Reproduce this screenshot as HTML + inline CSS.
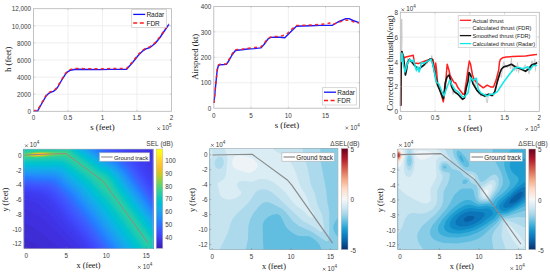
<!DOCTYPE html>
<html><head><meta charset="utf-8"><style>
html,body{margin:0;padding:0;background:#fff;width:550px;height:274px;overflow:hidden}
svg{display:block}
</style></head><body>
<svg width="550" height="274" viewBox="0 0 550 274" shape-rendering="auto">
<rect width="550" height="274" fill="#fff"/>
<line x1="67.97" y1="8.7" x2="67.97" y2="111.3" stroke="#ebebeb" stroke-width="0.8"/><line x1="102.45" y1="8.7" x2="102.45" y2="111.3" stroke="#ebebeb" stroke-width="0.8"/><line x1="136.93" y1="8.7" x2="136.93" y2="111.3" stroke="#ebebeb" stroke-width="0.8"/><line x1="33.5" y1="94.20" x2="171.4" y2="94.20" stroke="#ebebeb" stroke-width="0.8"/><line x1="33.5" y1="77.10" x2="171.4" y2="77.10" stroke="#ebebeb" stroke-width="0.8"/><line x1="33.5" y1="60.00" x2="171.4" y2="60.00" stroke="#ebebeb" stroke-width="0.8"/><line x1="33.5" y1="42.90" x2="171.4" y2="42.90" stroke="#ebebeb" stroke-width="0.8"/><line x1="33.5" y1="25.80" x2="171.4" y2="25.80" stroke="#ebebeb" stroke-width="0.8"/><polyline points="33.6,111.3 37.4,111.3 41.5,104.0 45.9,96.4 48.0,94.0 50.0,92.7 53.4,91.4 55.5,89.8 57.5,87.5 61.5,80.5 65.5,74.1 68.0,71.6 70.5,70.2 75.7,69.3 90.0,69.5 100.0,69.6 110.0,69.4 126.6,69.3 133.0,62.0 139.0,54.5 143.2,50.6 146.0,48.9 150.0,47.5 155.1,43.5 160.0,37.5 164.0,31.5 168.1,25.5 169.0,24.5" fill="none" stroke="#1a1aff" stroke-width="1.4" stroke-linejoin="round" stroke-linecap="butt" opacity="1"/><polyline points="33.6,110.5 37.4,110.5 41.5,103.2 45.9,95.6 48.0,93.2 50.0,91.9 53.4,90.6 55.5,89.0 57.5,86.7 61.5,79.7 65.5,73.3 68.0,70.8 70.5,69.4 75.7,68.5 90.0,68.7 100.0,68.8 110.0,68.6 126.6,68.5 133.0,61.2 139.0,53.7 143.2,49.8 146.0,48.1 150.0,46.7 155.1,42.7 160.0,36.7 164.0,30.7 168.1,24.7 169.0,23.7" fill="none" stroke="#ff1a1a" stroke-width="1.5" stroke-linejoin="round" stroke-linecap="butt" stroke-dasharray="3.1,3.2" opacity="0.9"/><rect x="33.5" y="8.7" width="137.90" height="102.60" fill="none" stroke="#b4b4b4" stroke-width="0.8"/><line x1="67.97" y1="111.3" x2="67.97" y2="109.89999999999999" stroke="#b4b4b4" stroke-width="0.6"/><line x1="67.97" y1="8.7" x2="67.97" y2="10.1" stroke="#b4b4b4" stroke-width="0.6"/><line x1="102.45" y1="111.3" x2="102.45" y2="109.89999999999999" stroke="#b4b4b4" stroke-width="0.6"/><line x1="102.45" y1="8.7" x2="102.45" y2="10.1" stroke="#b4b4b4" stroke-width="0.6"/><line x1="136.93" y1="111.3" x2="136.93" y2="109.89999999999999" stroke="#b4b4b4" stroke-width="0.6"/><line x1="136.93" y1="8.7" x2="136.93" y2="10.1" stroke="#b4b4b4" stroke-width="0.6"/><line x1="33.5" y1="94.20" x2="34.9" y2="94.20" stroke="#b4b4b4" stroke-width="0.6"/><line x1="171.4" y1="94.20" x2="170.0" y2="94.20" stroke="#b4b4b4" stroke-width="0.6"/><line x1="33.5" y1="77.10" x2="34.9" y2="77.10" stroke="#b4b4b4" stroke-width="0.6"/><line x1="171.4" y1="77.10" x2="170.0" y2="77.10" stroke="#b4b4b4" stroke-width="0.6"/><line x1="33.5" y1="60.00" x2="34.9" y2="60.00" stroke="#b4b4b4" stroke-width="0.6"/><line x1="171.4" y1="60.00" x2="170.0" y2="60.00" stroke="#b4b4b4" stroke-width="0.6"/><line x1="33.5" y1="42.90" x2="34.9" y2="42.90" stroke="#b4b4b4" stroke-width="0.6"/><line x1="171.4" y1="42.90" x2="170.0" y2="42.90" stroke="#b4b4b4" stroke-width="0.6"/><line x1="33.5" y1="25.80" x2="34.9" y2="25.80" stroke="#b4b4b4" stroke-width="0.6"/><line x1="171.4" y1="25.80" x2="170.0" y2="25.80" stroke="#b4b4b4" stroke-width="0.6"/><text x="30.90" y="114.02" font-size="6.3" font-family="Liberation Sans, sans-serif" fill="#3a3a3a" text-anchor="end" >0</text><text x="30.90" y="96.92" font-size="6.3" font-family="Liberation Sans, sans-serif" fill="#3a3a3a" text-anchor="end" >2000</text><text x="30.90" y="79.82" font-size="6.3" font-family="Liberation Sans, sans-serif" fill="#3a3a3a" text-anchor="end" >4000</text><text x="30.90" y="62.72" font-size="6.3" font-family="Liberation Sans, sans-serif" fill="#3a3a3a" text-anchor="end" >6000</text><text x="30.90" y="45.62" font-size="6.3" font-family="Liberation Sans, sans-serif" fill="#3a3a3a" text-anchor="end" >8000</text><text x="30.90" y="28.52" font-size="6.3" font-family="Liberation Sans, sans-serif" fill="#3a3a3a" text-anchor="end" >10,000</text><text x="30.90" y="11.42" font-size="6.3" font-family="Liberation Sans, sans-serif" fill="#3a3a3a" text-anchor="end" >12,000</text><text x="33.50" y="120.02" font-size="6.3" font-family="Liberation Sans, sans-serif" fill="#3a3a3a" text-anchor="middle" >0</text><text x="67.97" y="120.02" font-size="6.3" font-family="Liberation Sans, sans-serif" fill="#3a3a3a" text-anchor="middle" >0.5</text><text x="102.45" y="120.02" font-size="6.3" font-family="Liberation Sans, sans-serif" fill="#3a3a3a" text-anchor="middle" >1</text><text x="136.93" y="120.02" font-size="6.3" font-family="Liberation Sans, sans-serif" fill="#3a3a3a" text-anchor="middle" >1.5</text><text x="171.40" y="120.02" font-size="6.3" font-family="Liberation Sans, sans-serif" fill="#3a3a3a" text-anchor="middle" >2</text><path d="M157.25 127.35L159.95 130.05M157.25 130.05L159.95 127.35" stroke="#3a3a3a" stroke-width="0.6" fill="none"/><text x="162.00" y="130.27" font-size="6.3" font-family="Liberation Sans, sans-serif" fill="#3a3a3a">10<tspan font-size="4.6" dy="-2.9">5</tspan></text><text x="102.40" y="129.93" font-size="8.7" font-family="Liberation Serif, serif" fill="#111" text-anchor="middle" >s (feet)</text><text x="7.40" y="62.43" font-size="8.7" font-family="Liberation Serif, serif" fill="#111" text-anchor="middle" transform="rotate(-90 7.40 59.30)" >h (feet)</text><rect x="131.7" y="9.3" width="34.60" height="18.30" fill="#fff" stroke="#c8c8c8" stroke-width="0.7"/><line x1="133.20" y1="14.40" x2="145.20" y2="14.40" stroke="#1010ff" stroke-width="1.3"/><text x="146.40" y="17.21" font-size="6.55" font-family="Liberation Sans, sans-serif" fill="#1a1a1a" text-anchor="start" >Radar</text><line x1="133.20" y1="23.10" x2="145.20" y2="23.10" stroke="#ff1a1a" stroke-width="1.5" stroke-dasharray="4,2.6"/><text x="146.40" y="25.91" font-size="6.55" font-family="Liberation Sans, sans-serif" fill="#1a1a1a" text-anchor="start" >FDR</text><line x1="251.07" y1="6.4" x2="251.07" y2="108.2" stroke="#ebebeb" stroke-width="0.8"/><line x1="288.33" y1="6.4" x2="288.33" y2="108.2" stroke="#ebebeb" stroke-width="0.8"/><line x1="325.60" y1="6.4" x2="325.60" y2="108.2" stroke="#ebebeb" stroke-width="0.8"/><line x1="213.8" y1="82.75" x2="359.5" y2="82.75" stroke="#ebebeb" stroke-width="0.8"/><line x1="213.8" y1="57.30" x2="359.5" y2="57.30" stroke="#ebebeb" stroke-width="0.8"/><line x1="213.8" y1="31.85" x2="359.5" y2="31.85" stroke="#ebebeb" stroke-width="0.8"/><polyline points="214.0,103.0 215.0,92.0 216.2,80.0 217.2,70.0 218.4,65.5 220.0,64.8 224.0,64.6 226.4,64.3 229.0,60.5 232.0,55.0 235.0,51.0 237.0,50.2 242.0,49.8 247.7,49.0 254.0,48.6 260.8,47.9 264.0,44.5 268.0,39.0 270.7,37.4 275.0,37.2 280.0,37.3 284.8,37.7 290.0,32.5 296.4,26.3 302.0,26.0 310.7,25.7 320.0,25.4 332.6,25.2 338.0,22.0 345.8,18.6 349.0,18.6 353.0,20.5 359.0,22.6" fill="none" stroke="#1a1aff" stroke-width="1.4" stroke-linejoin="round" stroke-linecap="butt" opacity="1"/><polyline points="214.0,103.0 215.0,92.0 216.2,80.0 217.2,70.0 218.4,65.0 220.0,64.2 224.0,64.0 226.4,63.8 229.0,59.5 232.0,54.0 235.0,50.0 237.0,49.5 242.0,49.2 247.7,48.2 254.0,47.6 260.8,47.0 264.0,43.5 268.0,38.5 270.7,37.0 275.0,36.6 280.0,36.3 283.0,35.5 286.6,34.5 290.0,30.5 296.4,25.5 302.0,25.3 310.7,25.0 320.0,24.5 327.0,23.8 329.3,23.0 332.6,24.5 338.0,22.5 345.8,20.0 350.0,20.6 354.0,22.0 359.0,23.0" fill="none" stroke="#ff1a1a" stroke-width="1.5" stroke-linejoin="round" stroke-linecap="butt" stroke-dasharray="3.1,3.2" opacity="0.9"/><rect x="213.8" y="6.4" width="145.70" height="101.80" fill="none" stroke="#b4b4b4" stroke-width="0.8"/><line x1="251.07" y1="108.2" x2="251.07" y2="106.8" stroke="#b4b4b4" stroke-width="0.6"/><line x1="251.07" y1="6.4" x2="251.07" y2="7.800000000000001" stroke="#b4b4b4" stroke-width="0.6"/><line x1="288.33" y1="108.2" x2="288.33" y2="106.8" stroke="#b4b4b4" stroke-width="0.6"/><line x1="288.33" y1="6.4" x2="288.33" y2="7.800000000000001" stroke="#b4b4b4" stroke-width="0.6"/><line x1="325.60" y1="108.2" x2="325.60" y2="106.8" stroke="#b4b4b4" stroke-width="0.6"/><line x1="325.60" y1="6.4" x2="325.60" y2="7.800000000000001" stroke="#b4b4b4" stroke-width="0.6"/><line x1="213.8" y1="82.75" x2="215.20000000000002" y2="82.75" stroke="#b4b4b4" stroke-width="0.6"/><line x1="359.5" y1="82.75" x2="358.1" y2="82.75" stroke="#b4b4b4" stroke-width="0.6"/><line x1="213.8" y1="57.30" x2="215.20000000000002" y2="57.30" stroke="#b4b4b4" stroke-width="0.6"/><line x1="359.5" y1="57.30" x2="358.1" y2="57.30" stroke="#b4b4b4" stroke-width="0.6"/><line x1="213.8" y1="31.85" x2="215.20000000000002" y2="31.85" stroke="#b4b4b4" stroke-width="0.6"/><line x1="359.5" y1="31.85" x2="358.1" y2="31.85" stroke="#b4b4b4" stroke-width="0.6"/><text x="211.20" y="110.92" font-size="6.3" font-family="Liberation Sans, sans-serif" fill="#3a3a3a" text-anchor="end" >0</text><text x="211.20" y="85.47" font-size="6.3" font-family="Liberation Sans, sans-serif" fill="#3a3a3a" text-anchor="end" >100</text><text x="211.20" y="60.02" font-size="6.3" font-family="Liberation Sans, sans-serif" fill="#3a3a3a" text-anchor="end" >200</text><text x="211.20" y="34.57" font-size="6.3" font-family="Liberation Sans, sans-serif" fill="#3a3a3a" text-anchor="end" >300</text><text x="211.20" y="9.12" font-size="6.3" font-family="Liberation Sans, sans-serif" fill="#3a3a3a" text-anchor="end" >400</text><text x="213.80" y="118.02" font-size="6.3" font-family="Liberation Sans, sans-serif" fill="#3a3a3a" text-anchor="middle" >0</text><text x="251.07" y="118.02" font-size="6.3" font-family="Liberation Sans, sans-serif" fill="#3a3a3a" text-anchor="middle" >5</text><text x="288.33" y="118.02" font-size="6.3" font-family="Liberation Sans, sans-serif" fill="#3a3a3a" text-anchor="middle" >10</text><text x="325.60" y="118.02" font-size="6.3" font-family="Liberation Sans, sans-serif" fill="#3a3a3a" text-anchor="middle" >15</text><path d="M345.45 126.65L348.15 129.35M345.45 129.35L348.15 126.65" stroke="#3a3a3a" stroke-width="0.6" fill="none"/><text x="350.20" y="129.57" font-size="6.3" font-family="Liberation Sans, sans-serif" fill="#3a3a3a">10<tspan font-size="4.6" dy="-2.9">4</tspan></text><text x="286.90" y="128.43" font-size="8.7" font-family="Liberation Serif, serif" fill="#111" text-anchor="middle" >s (feet)</text><text x="195.10" y="59.93" font-size="8.7" font-family="Liberation Serif, serif" fill="#111" text-anchor="middle" transform="rotate(-90 195.10 56.80)" >Airspeed (kt)</text><rect x="322.5" y="87.7" width="33.80" height="17.30" fill="#fff" stroke="#c8c8c8" stroke-width="0.7"/><line x1="324.00" y1="92.20" x2="336.00" y2="92.20" stroke="#1010ff" stroke-width="1.3"/><text x="337.20" y="95.01" font-size="6.55" font-family="Liberation Sans, sans-serif" fill="#1a1a1a" text-anchor="start" >Radar</text><line x1="324.00" y1="100.60" x2="336.00" y2="100.60" stroke="#ff1a1a" stroke-width="1.5" stroke-dasharray="4,2.6"/><text x="337.20" y="103.41" font-size="6.55" font-family="Liberation Sans, sans-serif" fill="#1a1a1a" text-anchor="start" >FDR</text><line x1="435.05" y1="12.3" x2="435.05" y2="111.4" stroke="#ebebeb" stroke-width="0.8"/><line x1="469.80" y1="12.3" x2="469.80" y2="111.4" stroke="#ebebeb" stroke-width="0.8"/><line x1="504.55" y1="12.3" x2="504.55" y2="111.4" stroke="#ebebeb" stroke-width="0.8"/><line x1="400.3" y1="86.62" x2="539.3" y2="86.62" stroke="#ebebeb" stroke-width="0.8"/><line x1="400.3" y1="61.85" x2="539.3" y2="61.85" stroke="#ebebeb" stroke-width="0.8"/><line x1="400.3" y1="37.08" x2="539.3" y2="37.08" stroke="#ebebeb" stroke-width="0.8"/><polyline points="400.7,106.1 400.9,81.5 401.5,24.0 401.8,19.0 402.1,40.0 401.4,58.7 401.9,51.2 403.0,57.4 403.7,59.2 404.6,65.6 405.4,74.5 406.5,68.0 407.5,58.5 408.5,63.5 409.5,59.7 411.0,62.4 412.5,61.7 413.6,64.7 414.6,64.3 415.8,67.3 417.0,68.4 418.1,67.1 419.1,70.1 420.1,67.4 421.0,67.7 422.2,67.7 423.5,64.5 424.8,65.8 426.0,62.4 427.0,64.2 427.9,60.3 428.9,60.6 429.9,61.4 430.9,61.4 431.8,55.5 432.8,64.2 433.8,68.8 435.5,82.8 436.6,81.1 437.6,81.7 438.6,88.2 439.5,90.3 440.4,92.0 441.4,94.4 442.4,96.7 443.3,101.1 444.3,91.3 445.3,81.0 447.0,76.8 448.1,73.9 449.1,73.0 450.5,79.8 451.6,85.6 452.9,94.5 454.2,91.4 455.1,91.1 456.1,94.0 457.1,93.0 458.0,95.2 458.9,95.0 459.8,97.6 460.7,98.4 461.6,98.4 462.5,98.7 463.4,98.2 464.4,98.5 465.4,85.2 466.3,87.5 468.0,80.8 469.0,72.4 470.6,76.1 471.9,80.8 473.1,84.8 474.1,85.8 475.0,82.7 475.9,87.9 476.9,90.6 477.9,92.1 478.9,94.3 479.8,92.8 480.8,96.3 481.8,94.3 482.7,95.7 483.7,95.5 484.6,97.2 485.6,93.3 486.5,101.8 487.4,102.9 488.4,94.0 489.4,93.5 490.4,94.7 491.3,96.6 492.3,96.1 493.6,96.0 494.8,92.3 496.1,88.5 497.4,76.2 498.6,76.7 499.9,74.7 501.5,77.4 502.6,67.3 503.8,61.8 505.1,66.1 506.3,67.2 507.3,67.7 508.3,65.5 509.4,64.9 510.4,68.8 511.4,58.2 512.4,71.9 513.4,65.2 514.5,70.7 515.5,67.6 516.5,71.4 517.5,62.6 518.5,72.6 519.4,68.7 520.4,70.3 521.4,68.8 522.4,69.8 523.5,69.2 524.5,65.4 525.5,64.9 526.8,71.4 528.0,68.9 529.0,73.8 530.0,68.5 530.9,65.5 531.9,60.7 532.9,63.5 533.8,65.2 534.8,59.2 535.7,71.5" fill="none" stroke="#c6c6c6" stroke-width="0.9" stroke-linejoin="round" stroke-linecap="butt" opacity="1"/><polyline points="400.8,105.6 400.9,80.0 401.2,55.0 401.6,52.1 402.5,54.0 404.4,57.9 406.0,57.0 413.3,55.3 414.3,63.0 418.4,63.6 425.0,61.0 431.2,58.9 433.1,59.8 434.2,67.0 435.0,75.0 435.7,63.0 436.5,70.0 437.6,82.7 440.1,90.3 443.3,101.8 445.3,87.8 446.5,72.0 447.2,64.3 449.1,70.7 450.0,75.0 452.0,79.0 454.2,82.7 455.5,82.7 458.0,87.8 463.1,94.2 464.4,94.2 466.3,81.4 468.0,69.4 469.3,61.1 470.6,64.3 472.5,75.0 474.4,80.1 478.2,83.9 483.3,87.8 487.2,85.2 491.0,87.1 493.5,87.1 496.1,80.1 498.7,70.0 499.5,62.0 500.5,59.3 502.5,57.8 506.3,57.1 512.7,56.6 525.5,55.9 535.7,54.6 537.0,54.4" fill="none" stroke="#ff2020" stroke-width="1.5" stroke-linejoin="round" stroke-linecap="butt" opacity="1"/><polyline points="400.7,106.0 400.9,80.0 401.4,55.0 401.9,51.5 403.0,56.0 403.7,59.2 404.6,66.0 405.4,75.0 406.5,70.0 407.5,63.0 409.5,59.2 411.0,61.0 412.5,63.0 414.6,65.5 417.0,68.0 419.1,69.4 421.0,67.0 423.5,65.5 426.0,62.5 429.9,59.2 431.8,59.2 433.8,68.0 435.5,76.0 437.6,85.2 439.5,89.5 441.4,94.2 443.3,98.6 444.3,92.0 445.3,82.7 447.0,77.0 449.1,75.0 450.5,80.0 451.6,86.5 454.2,91.6 458.0,94.2 462.5,99.3 464.4,98.0 466.3,87.8 468.0,81.4 469.0,72.5 470.6,75.0 473.1,83.9 476.9,90.3 480.8,94.2 484.6,96.1 488.4,94.2 492.3,95.4 494.8,91.6 497.4,81.4 499.9,73.0 501.5,69.0 503.8,66.8 506.3,66.2 511.4,64.3 516.5,67.5 520.4,68.7 525.5,71.3 528.0,69.4 531.9,64.9 535.7,63.6 537.0,62.5" fill="none" stroke="#151515" stroke-width="1.7" stroke-linejoin="round" stroke-linecap="butt" opacity="1"/><polyline points="401.2,62.0 401.8,53.0 402.6,55.0 403.1,63.0 405.0,72.0 407.6,63.0 410.1,59.2 412.0,61.7 413.3,59.8 416.5,70.7 417.8,66.8 419.1,72.0 421.6,62.3 423.5,63.6 427.4,61.1 431.2,59.2 433.1,65.5 435.0,75.0 436.3,82.0 438.9,84.0 441.4,90.3 444.0,96.0 445.9,90.3 449.7,80.1 452.9,86.5 454.8,89.7 458.0,91.6 461.9,96.1 463.8,97.3 468.0,92.9 470.6,77.6 473.1,80.7 476.3,78.2 478.2,89.0 480.8,92.9 487.2,96.1 490.3,94.2 493.5,94.2 497.4,91.6 503.0,83.0 508.9,75.0 512.0,71.0 515.3,67.5 519.1,67.5 522.9,68.7 528.0,66.8 529.9,70.0 533.1,65.5 537.0,65.5" fill="none" stroke="#10e8e8" stroke-width="1.5" stroke-linejoin="round" stroke-linecap="butt" opacity="1"/><rect x="400.3" y="12.3" width="139.00" height="99.10" fill="none" stroke="#b4b4b4" stroke-width="0.8"/><line x1="435.05" y1="111.4" x2="435.05" y2="110.0" stroke="#b4b4b4" stroke-width="0.6"/><line x1="435.05" y1="12.3" x2="435.05" y2="13.700000000000001" stroke="#b4b4b4" stroke-width="0.6"/><line x1="469.80" y1="111.4" x2="469.80" y2="110.0" stroke="#b4b4b4" stroke-width="0.6"/><line x1="469.80" y1="12.3" x2="469.80" y2="13.700000000000001" stroke="#b4b4b4" stroke-width="0.6"/><line x1="504.55" y1="111.4" x2="504.55" y2="110.0" stroke="#b4b4b4" stroke-width="0.6"/><line x1="504.55" y1="12.3" x2="504.55" y2="13.700000000000001" stroke="#b4b4b4" stroke-width="0.6"/><line x1="400.3" y1="86.62" x2="401.7" y2="86.62" stroke="#b4b4b4" stroke-width="0.6"/><line x1="539.3" y1="86.62" x2="537.9" y2="86.62" stroke="#b4b4b4" stroke-width="0.6"/><line x1="400.3" y1="61.85" x2="401.7" y2="61.85" stroke="#b4b4b4" stroke-width="0.6"/><line x1="539.3" y1="61.85" x2="537.9" y2="61.85" stroke="#b4b4b4" stroke-width="0.6"/><line x1="400.3" y1="37.08" x2="401.7" y2="37.08" stroke="#b4b4b4" stroke-width="0.6"/><line x1="539.3" y1="37.08" x2="537.9" y2="37.08" stroke="#b4b4b4" stroke-width="0.6"/><text x="397.90" y="114.12" font-size="6.3" font-family="Liberation Sans, sans-serif" fill="#3a3a3a" text-anchor="end" >0</text><text x="397.90" y="89.34" font-size="6.3" font-family="Liberation Sans, sans-serif" fill="#3a3a3a" text-anchor="end" >2</text><text x="397.90" y="64.57" font-size="6.3" font-family="Liberation Sans, sans-serif" fill="#3a3a3a" text-anchor="end" >4</text><text x="397.90" y="39.79" font-size="6.3" font-family="Liberation Sans, sans-serif" fill="#3a3a3a" text-anchor="end" >6</text><text x="397.90" y="15.02" font-size="6.3" font-family="Liberation Sans, sans-serif" fill="#3a3a3a" text-anchor="end" >8</text><text x="400.30" y="120.42" font-size="6.3" font-family="Liberation Sans, sans-serif" fill="#3a3a3a" text-anchor="middle" >0</text><text x="435.05" y="120.42" font-size="6.3" font-family="Liberation Sans, sans-serif" fill="#3a3a3a" text-anchor="middle" >0.5</text><text x="469.80" y="120.42" font-size="6.3" font-family="Liberation Sans, sans-serif" fill="#3a3a3a" text-anchor="middle" >1</text><text x="504.55" y="120.42" font-size="6.3" font-family="Liberation Sans, sans-serif" fill="#3a3a3a" text-anchor="middle" >1.5</text><text x="539.30" y="120.42" font-size="6.3" font-family="Liberation Sans, sans-serif" fill="#3a3a3a" text-anchor="middle" >2</text><path d="M525.45 127.95L528.15 130.65M525.45 130.65L528.15 127.95" stroke="#3a3a3a" stroke-width="0.6" fill="none"/><text x="530.20" y="130.87" font-size="6.3" font-family="Liberation Sans, sans-serif" fill="#3a3a3a">10<tspan font-size="4.6" dy="-2.9">5</tspan></text><path d="M401.45 8.45L404.15 11.15M401.45 11.15L404.15 8.45" stroke="#3a3a3a" stroke-width="0.6" fill="none"/><text x="406.20" y="11.37" font-size="6.3" font-family="Liberation Sans, sans-serif" fill="#3a3a3a">10<tspan font-size="4.6" dy="-2.9">4</tspan></text><text x="470.00" y="130.93" font-size="8.7" font-family="Liberation Serif, serif" fill="#111" text-anchor="middle" >s (feet)</text><text x="390.00" y="66.10" font-size="8.6" font-family="Liberation Serif, serif" fill="#111" text-anchor="middle" transform="rotate(-90 390.00 63.00)" >Corrected net thrust(lb/eng)</text><rect x="458.2" y="15.4" width="78.00" height="32.20" fill="#fff" stroke="#c8c8c8" stroke-width="0.7"/><line x1="459.80" y1="20.30" x2="471.20" y2="20.30" stroke="#ff2020" stroke-width="1.3"/><text x="472.40" y="22.77" font-size="5.62" font-family="Liberation Sans, sans-serif" fill="#1a1a1a" text-anchor="start" >Actual thrust</text><line x1="459.80" y1="27.90" x2="471.20" y2="27.90" stroke="#d8d8d8" stroke-width="1.0"/><text x="472.40" y="30.37" font-size="5.62" font-family="Liberation Sans, sans-serif" fill="#1a1a1a" text-anchor="start" >Calculated thrust (FDR)</text><line x1="459.80" y1="35.60" x2="471.20" y2="35.60" stroke="#151515" stroke-width="1.3"/><text x="472.40" y="38.07" font-size="5.62" font-family="Liberation Sans, sans-serif" fill="#1a1a1a" text-anchor="start" >Smoothed thrust (FDR)</text><line x1="459.80" y1="43.60" x2="471.20" y2="43.60" stroke="#10e8e8" stroke-width="1.3"/><text x="472.40" y="46.07" font-size="5.62" font-family="Liberation Sans, sans-serif" fill="#1a1a1a" text-anchor="start" >Calculated thrust (Radar)</text>
<clipPath id="c4"><rect x="23.9" y="149.1" width="129.20" height="99.30"/></clipPath><g clip-path="url(#c4)"><rect x="23.90" y="149.10" width="129.20" height="99.30" fill="#3a20af"/><path fill="#3b22b9" fill-rule="evenodd" d="M154.6 250.2 22.4 249.9 22.1 147.6 154.6 147.5 154.6 250.2Z"/><path fill="#3c26c2" fill-rule="evenodd" d="M154.6 250.2 22.4 249.9 22.1 147.6 154.6 147.6 154.6 250.2Z"/><path fill="#3d29cc" fill-rule="evenodd" d="M154.6 250.2 22.4 249.9 22.1 147.6 154.6 147.6 154.6 250.2Z"/><path fill="#3e2cd5" fill-rule="evenodd" d="M154.6 250.2 40.1 249.9 40.1 247.9 35.4 244.6 24.4 238.0 22.4 238.0 22.1 147.6 154.6 147.6 154.6 250.2Z"/><path fill="#3f2fde" fill-rule="evenodd" d="M154.6 250.2 59.7 249.9 59.7 247.9 42.4 233.7 29.4 225.3 24.4 222.8 22.4 222.8 22.1 147.6 154.6 147.6 154.6 250.2Z"/><path fill="#3f33e5" fill-rule="evenodd" d="M154.6 250.1 72.7 249.9 72.7 247.9 50.4 226.3 42.4 219.3 36.4 214.8 31.4 211.8 24.4 208.8 22.4 208.8 22.1 147.6 154.6 147.6 154.6 250.1Z"/><path fill="#3f37eb" fill-rule="evenodd" d="M154.6 250.1 80.1 249.9 80.1 247.9 78.5 246.1 62.9 229.8 55.4 220.9 42.9 207.8 38.4 204.5 33.4 202.1 27.4 200.2 22.4 199.7 22.2 147.6 145.7 147.6 145.7 149.6 152.6 160.1 154.6 160.1 154.6 250.1Z"/><path fill="#3f3cf0" fill-rule="evenodd" d="M154.6 250.1 84.8 249.9 84.8 247.9 82.5 245.0 65.3 225.8 59.5 218.1 46.2 202.8 42.2 199.8 37.4 197.6 27.4 195.3 22.4 195.0 22.2 147.6 135.9 147.6 135.9 149.6 140.5 154.6 144.1 159.6 152.6 174.6 154.6 174.6 154.6 250.1Z"/><path fill="#3f40f5" fill-rule="evenodd" d="M154.6 250.1 88.4 249.9 88.4 247.9 83.5 241.6 68.0 223.8 53.4 204.8 48.4 199.3 44.4 196.5 39.4 194.5 27.4 192.3 22.4 192.1 22.2 147.6 129.3 147.6 129.3 149.6 136.6 156.7 141.0 162.6 152.6 182.1 154.6 182.1 154.6 250.1Z"/><path fill="#3f45f9" fill-rule="evenodd" d="M154.6 250.1 91.3 249.9 91.3 247.9 84.5 238.9 69.9 221.8 54.8 201.8 50.0 196.7 45.4 193.8 40.4 192.1 27.4 190.1 22.4 190.0 22.2 147.6 124.3 147.6 124.3 149.6 129.6 153.8 136.0 160.6 152.6 186.5 154.6 186.5 154.6 250.1Z"/><path fill="#3f4afc" fill-rule="evenodd" d="M154.6 250.1 93.8 249.9 93.8 247.9 85.5 236.7 71.5 220.0 57.0 200.8 51.4 194.8 47.4 192.2 42.4 190.5 27.4 188.3 22.4 188.2 22.2 147.6 119.8 147.6 119.8 149.6 126.6 154.1 133.6 161.2 152.6 189.8 154.6 189.8 154.6 250.1Z"/><path fill="#3f4fff" fill-rule="evenodd" d="M154.6 250.1 96.1 249.9 96.1 247.9 85.5 233.6 73.1 218.8 58.9 199.8 53.2 193.7 48.9 190.7 43.4 188.9 27.4 186.8 22.4 186.7 22.2 147.6 115.9 147.6 115.9 149.6 123.6 154.1 131.6 161.6 152.6 192.4 154.6 192.4 154.6 250.1Z"/><path fill="#3e54ff" fill-rule="evenodd" d="M154.6 250.1 98.2 249.9 98.2 247.9 85.5 230.7 74.7 217.8 60.5 198.9 53.5 191.7 49.4 189.0 44.4 187.5 27.4 185.5 22.4 185.4 22.2 147.6 112.3 147.6 112.3 149.6 123.0 155.6 131.6 164.1 152.6 194.8 154.6 194.8 154.6 250.1Z"/><path fill="#3d59ff" fill-rule="evenodd" d="M154.6 250.1 100.1 249.9 100.1 247.9 85.5 228.0 76.1 216.8 62.5 198.8 54.8 190.7 50.4 187.8 46.4 186.5 32.0 184.7 22.4 184.2 22.2 147.6 109.1 147.6 109.1 149.6 116.5 153.2 122.0 156.6 130.6 165.1 152.6 196.9 154.6 196.9 154.6 250.1Z"/><path fill="#3b5eff" fill-rule="evenodd" d="M154.6 250.1 102.0 249.9 102.0 247.9 86.5 226.8 63.7 197.7 55.4 189.4 51.4 186.7 46.4 185.1 22.4 183.1 22.2 147.6 106.4 147.6 106.4 149.6 115.5 154.1 121.6 157.9 129.4 165.7 152.6 198.9 154.6 198.9 154.6 250.1Z"/><path fill="#3963ff" fill-rule="evenodd" d="M154.6 250.1 103.7 249.9 103.7 247.9 86.5 224.4 65.5 197.7 56.5 188.5 52.4 185.7 47.4 184.1 22.4 182.0 22.2 147.6 104.2 147.6 104.2 149.6 115.5 155.4 120.5 158.6 128.7 166.7 152.6 200.7 154.6 200.7 154.6 250.1Z"/><path fill="#3668ff" fill-rule="evenodd" d="M154.6 250.1 105.5 249.9 105.5 247.9 86.5 222.1 66.5 196.7 56.5 186.9 52.4 184.3 48.4 183.1 22.4 181.0 22.2 147.6 102.2 147.6 102.2 149.6 119.5 159.1 127.6 167.0 152.6 202.5 154.6 202.5 154.6 250.1Z"/><path fill="#316eff" fill-rule="evenodd" d="M154.6 250.1 107.1 249.9 107.1 247.9 87.5 221.1 68.2 196.7 57.5 186.1 53.4 183.4 49.4 182.1 22.4 180.1 22.2 147.6 100.5 147.6 100.5 149.6 119.5 160.4 126.8 167.7 152.6 204.2 154.6 204.2 154.6 250.1Z"/><path fill="#2c74ff" fill-rule="evenodd" d="M154.6 250.1 108.7 249.9 108.7 247.9 87.5 218.9 69.0 195.7 57.6 184.7 53.4 182.1 49.4 181.0 22.4 179.1 22.2 147.6 98.9 147.6 98.9 149.6 118.5 160.9 126.3 168.7 152.6 205.8 154.6 205.8 154.6 250.1Z"/><path fill="#277aff" fill-rule="evenodd" d="M154.6 250.0 110.3 249.9 110.3 247.9 88.5 218.1 70.5 195.6 58.5 184.0 54.4 181.3 50.4 180.2 22.4 178.3 22.2 147.6 97.3 147.6 97.3 149.6 118.0 161.6 125.6 169.2 152.6 207.4 154.6 207.4 154.6 250.0Z"/><path fill="#257fff" fill-rule="evenodd" d="M154.6 250.0 111.9 249.9 111.9 247.9 89.1 216.8 71.4 194.7 58.6 182.7 54.4 180.1 50.4 179.1 22.4 177.4 22.3 147.6 95.8 147.6 95.8 149.6 117.5 162.4 124.7 169.7 152.6 208.9 154.6 208.9 154.6 250.0Z"/><path fill="#2484ff" fill-rule="evenodd" d="M154.6 250.0 113.4 249.9 113.4 247.9 89.5 215.3 72.0 193.7 59.5 182.0 55.4 179.4 51.4 178.3 22.4 176.5 22.3 147.6 94.4 147.6 94.4 149.6 116.5 162.8 124.4 170.7 152.6 210.4 154.6 210.4 154.6 250.0Z"/><path fill="#2389ff" fill-rule="evenodd" d="M154.6 250.0 114.9 249.9 114.9 247.9 90.5 214.5 73.5 193.6 59.6 180.7 55.4 178.2 51.4 177.3 22.4 175.7 22.3 147.6 93.0 147.6 93.0 149.6 116.3 163.6 123.3 170.7 152.6 211.9 154.6 211.9 154.6 250.0Z"/><path fill="#238efb" fill-rule="evenodd" d="M154.6 250.0 116.4 249.9 116.4 247.9 91.5 213.8 74.3 192.7 60.5 180.1 56.5 177.5 52.4 176.4 22.4 174.9 22.3 147.6 91.6 147.6 91.6 149.6 103.5 157.3 115.5 164.2 123.0 171.7 152.6 213.4 154.6 213.4 154.6 250.0Z"/><path fill="#2193f8" fill-rule="evenodd" d="M154.6 250.0 117.9 249.9 117.9 247.9 92.3 212.8 74.9 191.7 61.5 179.5 57.5 176.8 53.4 175.6 22.4 174.0 22.3 147.6 90.3 147.6 90.3 149.6 102.5 157.6 114.8 164.6 121.9 171.7 152.6 214.8 154.6 214.8 154.6 250.0Z"/><path fill="#1e98f5" fill-rule="evenodd" d="M154.6 250.0 119.5 249.9 119.5 247.9 92.5 211.1 76.5 191.7 61.5 178.2 57.5 175.7 53.4 174.6 22.4 173.2 22.3 147.6 88.9 147.6 88.9 149.6 102.5 158.5 114.5 165.5 121.6 172.7 152.6 216.3 154.6 216.3 154.6 250.0Z"/><path fill="#1c9cf2" fill-rule="evenodd" d="M154.6 250.0 121.0 249.9 121.0 247.9 93.5 210.4 77.1 190.7 62.5 177.7 58.5 175.0 53.6 173.7 22.4 172.4 22.3 147.6 87.6 147.6 87.6 149.6 102.5 159.4 113.5 165.7 120.6 172.7 152.6 217.7 154.6 217.7 154.6 250.0Z"/><path fill="#1ba1ef" fill-rule="evenodd" d="M154.6 250.0 122.5 249.9 122.5 247.9 94.5 209.7 77.7 189.7 62.9 176.7 58.5 173.8 54.4 172.8 22.4 171.6 22.3 147.6 86.3 147.6 86.3 149.6 101.5 159.7 113.5 166.8 120.3 173.7 128.4 185.7 152.6 219.2 154.6 219.2 154.6 250.0Z"/><path fill="#18a5ee" fill-rule="evenodd" d="M154.6 250.0 124.1 249.9 124.1 247.9 95.4 208.8 78.5 188.9 63.5 175.8 59.5 173.1 54.4 171.8 22.4 170.8 22.3 147.6 85.0 147.6 85.0 149.6 101.5 160.7 113.3 167.7 119.5 174.0 127.6 186.0 152.6 220.7 154.6 220.7 154.6 250.0Z"/><path fill="#15a9ec" fill-rule="evenodd" d="M154.6 250.0 125.6 249.9 125.6 247.9 96.2 207.8 80.0 188.7 63.8 174.7 59.5 172.0 55.4 171.0 22.4 170.0 22.3 147.6 83.7 147.6 83.7 149.6 101.5 161.6 112.5 168.1 119.0 174.7 127.0 186.7 152.6 222.2 154.6 222.2 154.6 250.0Z"/><path fill="#13aee9" fill-rule="evenodd" d="M154.6 250.0 127.2 249.9 127.2 247.9 96.5 206.1 80.5 187.5 68.0 176.7 61.5 171.8 58.5 170.5 54.4 169.9 22.4 169.2 22.3 147.6 82.5 147.6 82.5 149.6 100.5 161.9 111.9 168.7 118.5 175.5 125.9 186.7 152.6 223.7 154.6 223.7 154.6 250.0Z"/><path fill="#0fb2e6" fill-rule="evenodd" d="M154.6 250.0 128.8 249.9 128.8 247.9 98.0 205.8 81.4 186.7 62.5 171.1 58.5 169.4 54.4 168.9 22.4 168.4 22.3 147.6 81.2 147.6 81.2 149.6 100.5 162.9 111.5 169.4 117.6 175.7 124.8 186.7 152.6 225.2 154.6 225.2 154.6 250.0Z"/><path fill="#0bb6e2" fill-rule="evenodd" d="M154.6 250.0 130.5 249.9 130.5 247.9 98.8 204.8 82.1 185.7 63.5 170.5 59.5 168.6 55.4 168.0 22.4 167.6 22.3 147.6 79.9 147.6 79.9 149.6 80.5 150.0 100.5 163.9 110.5 169.7 116.5 175.7 124.4 187.7 152.6 226.8 154.6 226.8 154.6 250.0Z"/><path fill="#04b9de" fill-rule="evenodd" d="M154.6 249.9 132.2 249.9 132.2 247.9 99.8 203.8 83.5 185.3 64.3 169.7 60.5 167.8 56.5 167.0 22.4 166.7 22.4 147.6 78.6 147.6 78.6 149.6 80.5 151.0 100.5 165.0 110.3 170.7 116.1 176.7 123.2 187.7 152.6 228.5 154.6 228.5 154.6 249.9Z"/><path fill="#00bdd9" fill-rule="evenodd" d="M154.6 249.9 133.9 249.9 133.9 247.9 100.7 202.8 84.5 184.5 64.5 168.4 60.5 166.6 56.5 166.0 22.4 165.9 22.4 147.6 77.3 147.6 77.3 149.6 79.5 151.2 99.5 165.3 109.5 171.2 115.5 177.4 122.0 187.7 152.6 230.1 154.6 230.1 154.6 249.9Z"/><path fill="#00c0d4" fill-rule="evenodd" d="M154.6 249.9 135.6 249.9 135.6 247.9 101.8 201.8 85.5 183.7 65.5 167.7 61.5 165.7 56.5 164.9 22.4 165.1 22.4 147.6 76.1 147.6 76.1 149.6 78.5 151.5 99.5 166.4 109.5 172.4 114.6 177.7 121.5 188.7 152.6 231.8 154.6 231.8 154.6 249.9Z"/><path fill="#00c3ce" fill-rule="evenodd" d="M154.6 249.9 137.4 249.9 137.4 247.9 102.8 200.8 86.4 182.7 65.9 166.7 61.8 164.6 57.5 163.9 22.4 164.2 22.4 147.6 74.9 147.6 74.9 149.6 78.5 152.5 98.5 166.9 108.5 172.8 114.1 178.7 120.3 188.7 152.6 233.6 154.6 233.6 154.6 249.9Z"/><path fill="#00c5c8" fill-rule="evenodd" d="M154.6 249.9 139.2 249.9 139.2 247.9 104.5 200.5 88.3 182.7 73.4 170.7 65.5 165.0 59.5 163.0 22.4 163.4 22.4 147.6 73.7 147.6 73.7 149.6 77.2 152.6 98.5 168.1 108.1 173.7 113.5 179.6 119.7 189.7 152.6 235.5 154.6 235.5 154.6 249.9Z"/><path fill="#09c7c2" fill-rule="evenodd" d="M154.6 249.9 141.1 249.9 141.1 247.9 105.8 199.8 96.5 190.1 90.3 182.7 82.0 175.7 68.5 165.5 64.5 163.1 61.5 162.2 54.4 161.7 22.4 162.6 22.4 147.6 72.5 147.6 72.5 149.6 75.7 152.6 98.5 169.3 107.5 174.5 112.3 179.7 118.3 189.7 152.6 237.4 154.6 237.4 154.6 249.9Z"/><path fill="#14c8bb" fill-rule="evenodd" d="M150.6 249.9 143.1 249.9 143.1 247.9 107.5 199.4 97.5 189.0 91.5 181.9 87.5 178.3 69.4 164.6 65.5 162.3 62.5 161.2 55.4 160.7 22.4 161.7 22.4 147.6 71.3 147.6 71.3 149.6 74.3 152.6 97.5 169.9 106.5 175.1 111.7 180.7 116.9 189.7 152.6 239.5 154.6 239.5 154.6 246.5 152.6 246.5 151.4 247.9 151.4 249.9 150.6 249.9Z"/><path fill="#1dc9b4" fill-rule="evenodd" d="M149.6 249.9 145.8 249.9 145.8 247.9 143.5 245.9 108.2 197.7 99.2 188.7 92.5 180.8 88.9 177.7 70.1 163.6 63.5 160.2 56.5 159.6 22.4 160.9 22.4 150.0 37.1 149.6 37.1 147.6 70.0 147.6 70.0 149.6 73.0 152.6 97.5 171.2 105.5 175.7 110.3 180.7 116.1 190.7 152.0 240.9 152.5 243.9 150.2 247.9 150.2 249.9 149.6 249.9Z"/><path fill="#23cbad" fill-rule="evenodd" d="M149.6 246.4 146.6 246.5 144.7 244.9 108.5 195.7 100.4 187.7 93.5 179.7 88.6 175.7 70.5 162.4 63.5 159.0 57.5 158.5 22.4 160.0 22.4 150.7 57.5 149.8 59.9 149.6 59.9 147.6 68.6 147.6 68.6 149.6 75.1 155.6 97.5 172.6 104.9 176.7 109.5 181.6 115.3 191.7 150.6 241.0 151.1 243.9 149.6 246.4Z"/><path fill="#28cda6" fill-rule="evenodd" d="M148.6 245.1 147.0 244.9 146.0 243.9 108.5 193.1 102.5 187.7 94.7 178.7 89.6 174.7 71.6 161.6 65.5 158.3 58.5 157.4 22.4 159.2 22.4 151.3 58.5 150.6 65.5 149.7 68.5 150.6 74.8 156.6 94.5 171.9 99.5 175.4 104.3 177.7 108.5 182.3 113.6 191.7 149.5 241.9 149.7 243.9 148.6 245.1Z"/><path fill="#2dce9e" fill-rule="evenodd" d="M121.6 207.7 109.5 191.7 103.8 186.7 96.5 178.2 82.3 167.7 68.9 158.6 64.5 156.8 60.5 156.5 39.4 158.1 22.4 158.4 22.4 151.9 39.4 151.0 57.5 151.2 65.5 150.6 67.5 151.0 74.5 157.6 92.5 171.9 99.5 176.9 103.5 178.7 107.9 183.7 110.6 189.7 122.6 206.8 121.6 207.7ZM124.6 211.8 121.6 207.8 122.6 206.8 125.4 210.8 124.6 211.8ZM129.6 218.6 124.6 211.8 125.6 211.0 130.4 217.8 129.6 218.6ZM132.6 222.7 129.8 218.8 130.6 218.0 133.2 221.8 132.6 222.7ZM134.6 225.4 132.7 222.8 133.6 222.2 135.3 224.8 134.6 225.4ZM135.6 226.8 134.9 225.8 135.6 225.0 136.2 225.8 135.6 226.8ZM137.6 229.5 135.7 226.8 136.6 226.4 137.6 227.8 138.2 228.8 137.6 229.5ZM139.6 232.3 137.9 229.8 138.6 229.2 140.4 231.9 139.6 232.3ZM140.6 233.6 140.0 232.9 140.6 232.0 141.2 232.9 140.6 233.6ZM142.6 236.4 140.9 233.9 141.6 233.4 143.2 235.9 142.6 236.4ZM143.6 237.7 143.0 236.9 143.6 236.1 144.1 236.9 143.6 237.7ZM144.6 239.1 143.8 237.9 144.6 237.5 145.4 238.9 144.6 239.1ZM145.6 240.5 145.1 239.9 145.6 239.0 146.1 239.9 145.6 240.5ZM146.6 241.9 146.0 240.9 146.6 240.3 147.0 240.9 146.6 241.9ZM147.6 243.2 146.7 241.9 147.6 241.7 148.1 242.9 147.6 243.2Z"/><path fill="#32d096" fill-rule="evenodd" d="M78.5 163.3 68.7 157.6 64.5 156.0 36.4 157.9 22.4 157.7 22.4 152.5 39.4 151.2 57.5 151.7 66.5 151.3 78.9 162.6 78.5 163.3ZM79.5 164.1 78.8 163.6 79.5 163.2 80.1 163.6 79.5 164.1ZM80.5 164.7 80.9 164.6 80.5 164.7ZM83.5 166.7 83.5 166.7ZM99.5 178.8 99.5 178.8ZM106.5 186.6 100.6 180.7 100.1 179.7 100.5 179.2 102.6 179.7 104.5 182.6 106.5 184.2 107.2 185.7 106.5 186.6Z"/><path fill="#39d18e" fill-rule="evenodd" d="M71.5 158.4 65.5 155.4 58.1 155.6 40.4 157.4 22.4 157.1 22.4 152.9 40.4 151.5 66.5 151.8 72.4 157.6 71.5 158.4ZM72.5 158.9 72.0 158.6 72.5 157.8 73.2 158.6 72.5 158.9Z"/><path fill="#43d285" fill-rule="evenodd" d="M70.5 156.7 65.5 155.0 40.4 157.3 25.4 157.0 22.4 156.6 22.4 153.4 38.4 151.7 65.5 152.1 67.0 152.6 70.5 156.7Z"/><path fill="#4dd27b" fill-rule="evenodd" d="M44.4 156.7 33.4 157.2 22.4 156.0 22.4 154.0 34.4 152.1 43.4 151.8 65.5 152.5 66.5 152.6 68.2 154.6 67.5 155.2 63.5 154.7 44.4 156.7Z"/><path fill="#58d271" fill-rule="evenodd" d="M42.4 156.7 34.4 157.0 25.4 156.2 24.5 155.6 24.4 154.7 22.4 154.6 24.4 154.6 25.7 153.6 33.4 152.4 45.4 152.0 65.5 153.0 66.9 153.6 66.5 154.2 42.4 156.7Z"/><path fill="#63d267" fill-rule="evenodd" d="M40.4 156.7 32.4 156.7 25.1 155.6 24.8 154.6 25.4 154.1 34.4 152.4 44.4 152.1 65.7 153.6 40.4 156.7Z"/><path fill="#70d25d" fill-rule="evenodd" d="M38.4 156.6 31.4 156.5 26.1 155.6 25.4 154.5 32.4 152.8 43.4 152.2 61.7 153.6 46.4 156.1 38.4 156.6Z"/><path fill="#7ed254" fill-rule="evenodd" d="M47.4 155.8 40.4 156.5 33.4 156.5 27.4 155.6 26.1 154.6 33.4 152.8 44.4 152.4 58.6 153.6 47.4 155.8Z"/><path fill="#8bd14a" fill-rule="evenodd" d="M46.4 155.8 33.4 156.4 28.4 155.6 27.0 154.6 33.4 152.9 44.4 152.5 55.9 153.6 53.3 154.6 46.4 155.8Z"/><path fill="#99d041" fill-rule="evenodd" d="M46.4 155.6 34.4 156.3 29.3 155.6 27.8 154.6 34.4 152.9 44.4 152.6 53.9 153.6 52.2 154.6 46.4 155.6Z"/><path fill="#a6cf38" fill-rule="evenodd" d="M45.4 155.7 34.4 156.2 30.1 155.6 28.5 154.6 34.4 153.0 44.4 152.7 52.3 153.6 51.3 154.6 45.4 155.7Z"/><path fill="#b2cd30" fill-rule="evenodd" d="M44.4 155.7 34.4 156.1 31.0 155.6 29.1 154.6 35.4 153.0 45.4 152.9 51.1 153.6 50.4 154.6 44.4 155.7Z"/><path fill="#bfcc29" fill-rule="evenodd" d="M43.4 155.7 34.4 156.0 31.8 155.6 29.7 154.6 35.4 153.1 45.4 153.0 50.0 153.6 49.6 154.6 43.4 155.7Z"/><path fill="#caca24" fill-rule="evenodd" d="M42.4 155.7 34.4 155.8 30.3 154.6 36.4 153.1 45.4 153.1 49.1 153.6 48.9 154.6 42.4 155.7Z"/><path fill="#d5c71f" fill-rule="evenodd" d="M42.4 155.6 34.4 155.7 30.8 154.6 36.4 153.2 44.4 153.1 48.2 153.6 48.3 154.6 42.4 155.6Z"/><path fill="#dec51f" fill-rule="evenodd" d="M41.4 155.6 34.4 155.6 31.4 154.6 36.4 153.3 45.4 153.4 47.4 153.6 47.6 154.6 41.4 155.6Z"/><path fill="#e7c220" fill-rule="evenodd" d="M39.4 155.7 35.4 155.6 31.9 154.6 35.4 153.5 44.4 153.4 46.6 153.6 47.0 154.6 39.4 155.7Z"/><path fill="#f0c024" fill-rule="evenodd" d="M45.4 154.8 37.4 155.6 32.4 154.6 35.5 153.6 41.4 153.3 45.7 153.6 46.4 154.6 45.4 154.8Z"/><path fill="#f7be2b" fill-rule="evenodd" d="M45.4 154.7 38.4 155.5 32.9 154.6 36.3 153.6 40.4 153.4 44.9 153.6 45.8 154.6 45.4 154.7Z"/><path fill="#febd32" fill-rule="evenodd" d="M44.4 154.8 38.4 155.4 33.5 154.6 37.1 153.6 41.4 153.5 43.9 153.6 45.2 154.6 44.4 154.8Z"/><path fill="#ffbe35" fill-rule="evenodd" d="M44.4 154.7 38.4 155.2 34.0 154.6 40.4 153.5 42.8 153.6 44.4 154.7Z"/><path fill="#ffc232" fill-rule="evenodd" d="M43.4 154.7 38.4 155.1 34.6 154.6 40.4 153.6 42.4 153.9 44.0 154.6 43.4 154.7Z"/><path fill="#ffc82e" fill-rule="evenodd" d="M42.4 154.7 35.3 154.6 40.4 153.9 42.4 154.2 43.3 154.6 42.4 154.7Z"/><path fill="#ffcd2a" fill-rule="evenodd" d="M42.4 154.6 36.0 154.6 39.4 154.1 42.4 154.6Z"/><path fill="#ffd327" fill-rule="evenodd" d="M41.4 154.6 36.9 154.6 41.4 154.6Z"/><path fill="#ffd924" fill-rule="evenodd" d="M39.4 154.6 38.4 154.6 39.4 154.6Z"/></g><polyline points="25.6,154.9 66.0,153.5 102.0,180.5 106.0,185.0 148.0,243.0" fill="none" stroke="#8e8a8a" stroke-width="1.0" stroke-linejoin="round"/><rect x="23.9" y="149.1" width="129.20" height="99.30" fill="none" stroke="#b4b4b4" stroke-width="0.6"/><line x1="26.30" y1="248.4" x2="26.30" y2="247.1" stroke="#777" stroke-width="0.5"/><text x="26.30" y="258.42" font-size="6.3" font-family="Liberation Sans, sans-serif" fill="#3a3a3a" text-anchor="middle">0</text><line x1="66.30" y1="248.4" x2="66.30" y2="247.1" stroke="#777" stroke-width="0.5"/><text x="66.30" y="258.42" font-size="6.3" font-family="Liberation Sans, sans-serif" fill="#3a3a3a" text-anchor="middle">5</text><line x1="106.30" y1="248.4" x2="106.30" y2="247.1" stroke="#777" stroke-width="0.5"/><text x="106.30" y="258.42" font-size="6.3" font-family="Liberation Sans, sans-serif" fill="#3a3a3a" text-anchor="middle">10</text><line x1="146.30" y1="248.4" x2="146.30" y2="247.1" stroke="#777" stroke-width="0.5"/><text x="146.30" y="258.42" font-size="6.3" font-family="Liberation Sans, sans-serif" fill="#3a3a3a" text-anchor="middle">15</text><line x1="23.9" y1="155.40" x2="25.2" y2="155.40" stroke="#777" stroke-width="0.5"/><text x="21.50" y="158.12" font-size="6.3" font-family="Liberation Sans, sans-serif" fill="#3a3a3a" text-anchor="end">0</text><line x1="23.9" y1="170.08" x2="25.2" y2="170.08" stroke="#777" stroke-width="0.5"/><text x="21.50" y="172.80" font-size="6.3" font-family="Liberation Sans, sans-serif" fill="#3a3a3a" text-anchor="end">-2</text><line x1="23.9" y1="184.76" x2="25.2" y2="184.76" stroke="#777" stroke-width="0.5"/><text x="21.50" y="187.48" font-size="6.3" font-family="Liberation Sans, sans-serif" fill="#3a3a3a" text-anchor="end">-4</text><line x1="23.9" y1="199.44" x2="25.2" y2="199.44" stroke="#777" stroke-width="0.5"/><text x="21.50" y="202.16" font-size="6.3" font-family="Liberation Sans, sans-serif" fill="#3a3a3a" text-anchor="end">-6</text><line x1="23.9" y1="214.12" x2="25.2" y2="214.12" stroke="#777" stroke-width="0.5"/><text x="21.50" y="216.84" font-size="6.3" font-family="Liberation Sans, sans-serif" fill="#3a3a3a" text-anchor="end">-8</text><line x1="23.9" y1="228.80" x2="25.2" y2="228.80" stroke="#777" stroke-width="0.5"/><text x="21.50" y="231.52" font-size="6.3" font-family="Liberation Sans, sans-serif" fill="#3a3a3a" text-anchor="end">-10</text><line x1="23.9" y1="243.48" x2="25.2" y2="243.48" stroke="#777" stroke-width="0.5"/><text x="21.50" y="246.20" font-size="6.3" font-family="Liberation Sans, sans-serif" fill="#3a3a3a" text-anchor="end">-12</text><path d="M25.05 144.45L27.75 147.15M25.05 147.15L27.75 144.45" stroke="#3a3a3a" stroke-width="0.6" fill="none"/><text x="29.80" y="147.37" font-size="6.3" font-family="Liberation Sans, sans-serif" fill="#3a3a3a">10<tspan font-size="4.6" dy="-2.9">4</tspan></text><path d="M137.95 265.95L140.65 268.65M137.95 268.65L140.65 265.95" stroke="#3a3a3a" stroke-width="0.6" fill="none"/><text x="142.70" y="268.87" font-size="6.3" font-family="Liberation Sans, sans-serif" fill="#3a3a3a">10<tspan font-size="4.6" dy="-2.9">4</tspan></text><text x="88.50" y="267.95" font-size="8.2" font-family="Liberation Serif, serif" fill="#111" text-anchor="middle">x (feet)</text><text x="5.20" y="202.60" font-size="8.2" font-family="Liberation Serif, serif" fill="#111" text-anchor="middle" transform="rotate(-90 5.20 199.65)">y (feet)</text><rect x="99.5" y="152.8" width="50.10" height="8.40" fill="#fff" stroke="#b0b0b0" stroke-width="0.6"/><line x1="101.10" y1="157.00" x2="112.70" y2="157.00" stroke="#9a9896" stroke-width="1.2"/><text x="113.90" y="159.59" font-size="5.95" font-family="Liberation Sans, sans-serif" fill="#202020" text-anchor="start">Ground track</text><linearGradient id="g4" x1="0" y1="0" x2="0" y2="1"><stop offset="0.000" stop-color="#ffff09"/><stop offset="0.050" stop-color="#fff11a"/><stop offset="0.100" stop-color="#ffda24"/><stop offset="0.150" stop-color="#ffc430"/><stop offset="0.200" stop-color="#f3bf27"/><stop offset="0.250" stop-color="#d0c821"/><stop offset="0.300" stop-color="#a1cf3b"/><stop offset="0.350" stop-color="#6dd25f"/><stop offset="0.400" stop-color="#41d286"/><stop offset="0.450" stop-color="#28cca6"/><stop offset="0.500" stop-color="#09c7c1"/><stop offset="0.550" stop-color="#00bdd8"/><stop offset="0.600" stop-color="#12afe8"/><stop offset="0.650" stop-color="#1b9ef1"/><stop offset="0.700" stop-color="#238bfd"/><stop offset="0.750" stop-color="#2977ff"/><stop offset="0.800" stop-color="#3a61ff"/><stop offset="0.850" stop-color="#3f4dff"/><stop offset="0.900" stop-color="#3f3bef"/><stop offset="0.950" stop-color="#3e2bd4"/><stop offset="1.000" stop-color="#3a20af"/></linearGradient><rect x="156.2" y="149.0" width="6.60" height="99.40" fill="url(#g4)"/><rect x="156.2" y="149.0" width="6.60" height="99.40" fill="none" stroke="#b8b8b8" stroke-width="0.5"/><text x="165.20" y="239.53" font-size="6.3" font-family="Liberation Sans, sans-serif" fill="#3a3a3a" text-anchor="start">40</text><text x="165.20" y="226.80" font-size="6.3" font-family="Liberation Sans, sans-serif" fill="#3a3a3a" text-anchor="start">50</text><text x="165.20" y="214.07" font-size="6.3" font-family="Liberation Sans, sans-serif" fill="#3a3a3a" text-anchor="start">60</text><text x="165.20" y="201.35" font-size="6.3" font-family="Liberation Sans, sans-serif" fill="#3a3a3a" text-anchor="start">70</text><text x="165.20" y="188.62" font-size="6.3" font-family="Liberation Sans, sans-serif" fill="#3a3a3a" text-anchor="start">80</text><text x="165.20" y="175.89" font-size="6.3" font-family="Liberation Sans, sans-serif" fill="#3a3a3a" text-anchor="start">90</text><text x="165.20" y="163.16" font-size="6.3" font-family="Liberation Sans, sans-serif" fill="#3a3a3a" text-anchor="start">100</text><text x="159.60" y="145.53" font-size="6.6" font-family="Liberation Sans, sans-serif" fill="#3a3a3a" text-anchor="middle">SEL (dB)</text><clipPath id="c5"><rect x="209.9" y="148.5" width="128.10" height="101.10"/></clipPath><g clip-path="url(#c5)"><rect x="209.90" y="148.50" width="128.10" height="101.10" fill="#08306b"/><path fill="#08306b" fill-rule="evenodd" d="M339.5 251.1 208.4 251.1 208.4 147.0 339.5 147.0 339.5 251.1Z"/><path fill="#084889" fill-rule="evenodd" d="M339.5 251.1 208.4 251.1 208.4 147.0 339.5 147.0 339.5 251.1Z"/><path fill="#095fa4" fill-rule="evenodd" d="M339.5 251.1 208.4 251.1 208.4 147.0 339.5 147.0 339.5 251.1Z"/><path fill="#0c74b8" fill-rule="evenodd" d="M339.5 251.1 208.4 251.1 208.4 147.0 339.5 147.0 339.5 251.1Z"/><path fill="#1189c6" fill-rule="evenodd" d="M339.5 251.1 208.4 251.1 208.4 147.0 339.5 147.0 339.5 251.1Z"/><path fill="#1c9cd0" fill-rule="evenodd" d="M339.5 251.1 208.4 251.1 208.4 147.0 339.5 147.0 339.5 251.1Z"/><path fill="#3caeda" fill-rule="evenodd" d="M339.5 251.1 208.4 251.1 208.4 147.0 339.5 147.0 339.5 251.1Z"/><path fill="#62bee1" fill-rule="evenodd" d="M339.5 251.1 208.4 251.1 208.4 147.0 339.5 147.0 339.5 251.1Z"/><path fill="#89cce6" fill-rule="evenodd" d="M339.5 251.1 321.5 251.1 321.5 249.1 319.6 245.1 317.4 242.1 314.5 239.4 309.5 236.2 298.5 235.9 293.5 233.6 288.8 230.1 286.0 227.1 280.6 216.1 278.5 214.5 276.5 214.1 272.4 214.7 268.4 216.7 264.7 220.1 263.1 223.1 262.7 226.1 263.1 244.1 263.7 251.1 208.4 251.1 208.4 147.0 339.5 147.0 339.5 218.3 337.5 218.3 335.5 220.9 333.6 225.1 333.2 228.1 333.9 231.1 335.5 234.0 337.5 236.4 339.5 236.4 339.5 251.1Z"/><path fill="#acd9eb" fill-rule="evenodd" d="M245.4 251.1 208.4 251.1 208.4 147.0 320.2 147.0 320.5 160.6 326.2 190.0 327.4 202.1 329.3 212.1 329.2 237.1 328.5 240.7 327.5 241.3 325.5 241.0 311.5 231.5 298.8 226.1 293.5 221.7 285.6 212.1 282.3 209.1 272.4 203.7 268.4 202.2 265.4 201.9 262.4 203.2 258.4 207.0 253.6 213.1 250.3 219.1 248.4 226.1 247.9 240.1 245.8 249.1 245.8 251.1 245.4 251.1Z"/><path fill="#c6e3f0" fill-rule="evenodd" d="M219.4 251.1 208.4 251.1 208.4 147.0 302.3 147.0 302.7 151.0 308.3 171.0 310.7 184.0 315.0 194.0 317.6 205.1 322.2 215.1 324.2 227.1 324.2 229.1 323.5 231.1 321.5 231.9 319.5 231.3 313.5 226.7 302.5 220.7 277.5 197.0 271.4 191.9 266.4 189.5 261.4 189.3 258.4 190.2 255.8 192.0 248.4 202.7 236.7 214.1 232.6 219.1 230.7 223.1 228.2 232.1 220.4 248.1 220.0 251.1 219.4 251.1ZM221.5 168.0 223.5 165.0 223.8 161.0 222.4 157.7 221.4 156.9 219.4 156.4 217.4 157.4 215.5 160.0 214.5 163.0 214.5 165.0 215.5 167.0 217.4 168.5 219.4 168.9 221.5 168.0Z"/><path fill="#daecf4" fill-rule="evenodd" d="M210.4 158.9 208.4 158.9 208.4 147.0 210.5 147.0 210.5 149.0 211.9 151.0 212.5 153.0 212.2 156.0 210.4 158.9ZM312.5 217.4 310.5 217.4 308.5 216.3 303.5 211.0 295.4 205.1 292.6 202.1 285.5 192.5 277.5 185.3 271.4 181.1 266.4 179.3 260.4 179.0 251.4 181.8 243.4 180.8 239.4 181.6 237.6 183.0 237.0 185.0 238.1 188.0 241.3 192.0 241.5 193.0 240.3 195.0 236.1 198.0 231.4 199.4 226.4 199.5 222.4 198.0 220.6 196.0 219.7 194.0 217.3 184.0 217.7 183.0 223.8 179.0 225.1 177.0 226.1 174.0 227.4 160.0 226.8 155.0 224.9 149.0 224.9 147.0 273.3 147.0 273.3 149.0 274.5 150.2 286.5 157.3 290.0 161.0 292.9 166.0 295.9 173.0 300.2 186.0 306.5 196.6 309.8 207.1 313.8 213.1 314.0 216.1 312.5 217.4Z"/><path fill="#edf3f6" fill-rule="evenodd" d="M251.4 172.4 249.4 172.9 247.4 172.7 237.4 169.7 234.4 168.2 232.7 166.0 232.2 164.0 232.4 160.5 233.4 157.8 234.4 156.7 236.4 155.9 242.4 155.8 249.4 156.9 253.4 159.0 257.1 163.0 258.0 166.0 256.3 169.0 251.4 172.4Z"/></g><polyline points="212.4,155.0 252.2,154.3 287.7,180.3 291.6,184.8 332.6,243.1" fill="none" stroke="#8a8a8a" stroke-width="1.15" stroke-linejoin="round"/><rect x="209.9" y="148.5" width="128.10" height="101.10" fill="none" stroke="#b4b4b4" stroke-width="0.6"/><line x1="212.20" y1="249.6" x2="212.20" y2="248.29999999999998" stroke="#777" stroke-width="0.5"/><text x="212.20" y="259.02" font-size="6.3" font-family="Liberation Sans, sans-serif" fill="#3a3a3a" text-anchor="middle">0</text><line x1="251.60" y1="249.6" x2="251.60" y2="248.29999999999998" stroke="#777" stroke-width="0.5"/><text x="251.60" y="259.02" font-size="6.3" font-family="Liberation Sans, sans-serif" fill="#3a3a3a" text-anchor="middle">5</text><line x1="291.00" y1="249.6" x2="291.00" y2="248.29999999999998" stroke="#777" stroke-width="0.5"/><text x="291.00" y="259.02" font-size="6.3" font-family="Liberation Sans, sans-serif" fill="#3a3a3a" text-anchor="middle">10</text><line x1="330.40" y1="249.6" x2="330.40" y2="248.29999999999998" stroke="#777" stroke-width="0.5"/><text x="330.40" y="259.02" font-size="6.3" font-family="Liberation Sans, sans-serif" fill="#3a3a3a" text-anchor="middle">15</text><line x1="209.9" y1="154.70" x2="211.20000000000002" y2="154.70" stroke="#777" stroke-width="0.5"/><text x="207.50" y="157.42" font-size="6.3" font-family="Liberation Sans, sans-serif" fill="#3a3a3a" text-anchor="end">0</text><line x1="209.9" y1="169.66" x2="211.20000000000002" y2="169.66" stroke="#777" stroke-width="0.5"/><text x="207.50" y="172.38" font-size="6.3" font-family="Liberation Sans, sans-serif" fill="#3a3a3a" text-anchor="end">-2</text><line x1="209.9" y1="184.62" x2="211.20000000000002" y2="184.62" stroke="#777" stroke-width="0.5"/><text x="207.50" y="187.34" font-size="6.3" font-family="Liberation Sans, sans-serif" fill="#3a3a3a" text-anchor="end">-4</text><line x1="209.9" y1="199.58" x2="211.20000000000002" y2="199.58" stroke="#777" stroke-width="0.5"/><text x="207.50" y="202.30" font-size="6.3" font-family="Liberation Sans, sans-serif" fill="#3a3a3a" text-anchor="end">-6</text><line x1="209.9" y1="214.54" x2="211.20000000000002" y2="214.54" stroke="#777" stroke-width="0.5"/><text x="207.50" y="217.26" font-size="6.3" font-family="Liberation Sans, sans-serif" fill="#3a3a3a" text-anchor="end">-8</text><line x1="209.9" y1="229.50" x2="211.20000000000002" y2="229.50" stroke="#777" stroke-width="0.5"/><text x="207.50" y="232.22" font-size="6.3" font-family="Liberation Sans, sans-serif" fill="#3a3a3a" text-anchor="end">-10</text><line x1="209.9" y1="244.46" x2="211.20000000000002" y2="244.46" stroke="#777" stroke-width="0.5"/><text x="207.50" y="247.18" font-size="6.3" font-family="Liberation Sans, sans-serif" fill="#3a3a3a" text-anchor="end">-12</text><path d="M211.05 143.95L213.75 146.65M211.05 146.65L213.75 143.95" stroke="#3a3a3a" stroke-width="0.6" fill="none"/><text x="215.80" y="146.87" font-size="6.3" font-family="Liberation Sans, sans-serif" fill="#3a3a3a">10<tspan font-size="4.6" dy="-2.9">4</tspan></text><path d="M322.85 267.85L325.55 270.55M322.85 270.55L325.55 267.85" stroke="#3a3a3a" stroke-width="0.6" fill="none"/><text x="327.60" y="270.77" font-size="6.3" font-family="Liberation Sans, sans-serif" fill="#3a3a3a">10<tspan font-size="4.6" dy="-2.9">4</tspan></text><text x="273.95" y="269.15" font-size="8.2" font-family="Liberation Serif, serif" fill="#111" text-anchor="middle">x (feet)</text><text x="191.80" y="202.90" font-size="8.2" font-family="Liberation Serif, serif" fill="#111" text-anchor="middle" transform="rotate(-90 191.80 199.95)">y (feet)</text><rect x="281.9" y="152.8" width="52.60" height="8.40" fill="#fff" stroke="#b0b0b0" stroke-width="0.6"/><line x1="283.50" y1="157.00" x2="295.10" y2="157.00" stroke="#8a8a8a" stroke-width="1.2"/><text x="296.30" y="159.74" font-size="6.35" font-family="Liberation Sans, sans-serif" fill="#202020" text-anchor="start">Ground track</text><linearGradient id="g5" x1="0" y1="0" x2="0" y2="1"><stop offset="0.000" stop-color="#67001f"/><stop offset="0.050" stop-color="#8c0c25"/><stop offset="0.100" stop-color="#b2182b"/><stop offset="0.150" stop-color="#c43c3c"/><stop offset="0.200" stop-color="#d6604d"/><stop offset="0.250" stop-color="#e58268"/><stop offset="0.300" stop-color="#f4a582"/><stop offset="0.350" stop-color="#f9c0a4"/><stop offset="0.400" stop-color="#fddbc7"/><stop offset="0.450" stop-color="#fae9df"/><stop offset="0.500" stop-color="#f7f7f7"/><stop offset="0.550" stop-color="#dfeef5"/><stop offset="0.600" stop-color="#c6e3f0"/><stop offset="0.650" stop-color="#a5d6ea"/><stop offset="0.700" stop-color="#76c6e4"/><stop offset="0.750" stop-color="#44b3dc"/><stop offset="0.800" stop-color="#1c9cd0"/><stop offset="0.850" stop-color="#0e84c4"/><stop offset="0.900" stop-color="#0a6ab0"/><stop offset="0.950" stop-color="#084e91"/><stop offset="1.000" stop-color="#08306b"/></linearGradient><rect x="341.2" y="148.5" width="6.80" height="101.10" fill="url(#g5)"/><rect x="341.2" y="148.5" width="6.80" height="101.10" fill="none" stroke="#b8b8b8" stroke-width="0.5"/><text x="350.40" y="151.72" font-size="6.3" font-family="Liberation Sans, sans-serif" fill="#3a3a3a" text-anchor="start">5</text><text x="350.40" y="202.27" font-size="6.3" font-family="Liberation Sans, sans-serif" fill="#3a3a3a" text-anchor="start">0</text><text x="350.40" y="252.82" font-size="6.3" font-family="Liberation Sans, sans-serif" fill="#3a3a3a" text-anchor="start">-5</text><text x="344.90" y="145.83" font-size="6.6" font-family="Liberation Sans, sans-serif" fill="#3a3a3a" text-anchor="middle">ΔSEL(dB)</text><clipPath id="c6"><rect x="397.9" y="149.0" width="127.70" height="100.60"/></clipPath><g clip-path="url(#c6)"><rect x="397.90" y="149.00" width="127.70" height="100.60" fill="#08306b"/><path fill="#08306b" fill-rule="evenodd" d="M527.1 251.1 396.4 251.1 396.4 147.5 527.1 147.5 527.1 251.1Z"/><path fill="#084889" fill-rule="evenodd" d="M527.1 251.1 396.4 251.1 396.4 147.5 527.1 147.5 527.1 251.1Z"/><path fill="#095fa4" fill-rule="evenodd" d="M527.1 251.1 396.4 251.1 396.4 147.5 527.1 147.5 527.1 251.1Z"/><path fill="#0c74b8" fill-rule="evenodd" d="M527.1 251.1 396.4 251.1 396.4 147.5 527.1 147.5 527.1 251.1ZM512.6 203.3 516.5 201.3 520.2 198.3 522.4 195.3 523.0 193.3 522.7 192.3 521.1 191.8 518.1 193.0 511.7 198.3 509.3 202.3 509.4 203.3 510.1 203.6 512.6 203.3ZM469.7 221.2 472.0 220.2 474.3 218.2 474.5 217.2 473.7 216.2 469.2 215.8 467.2 216.3 464.5 218.2 463.7 220.2 464.3 221.2 466.2 221.7 469.7 221.2Z"/><path fill="#1189c6" fill-rule="evenodd" d="M527.1 251.1 396.4 251.1 396.4 147.5 527.1 147.5 527.1 186.8 522.1 187.6 515.1 192.1 506.7 200.3 503.8 204.3 503.2 206.3 503.5 207.3 505.1 208.1 511.1 206.7 519.1 202.0 525.1 196.3 527.1 196.3 527.1 251.1ZM467.3 226.2 474.2 223.9 480.3 220.2 484.2 216.2 484.8 214.2 484.4 213.2 481.2 212.1 470.2 211.2 465.2 212.4 460.4 215.2 458.2 217.2 456.0 220.2 455.4 222.2 455.8 224.2 457.3 225.6 460.3 226.5 467.3 226.2Z"/><path fill="#1c9cd0" fill-rule="evenodd" d="M527.1 251.1 396.4 251.1 396.4 147.5 527.1 147.5 527.1 182.3 525.1 182.3 523.1 183.3 516.1 188.6 501.4 202.3 499.8 204.3 499.1 206.3 499.3 208.3 501.0 210.3 503.2 211.0 506.1 210.7 515.9 206.3 525.1 199.7 527.1 199.7 527.1 251.1ZM462.0 230.2 472.2 227.9 481.2 223.5 492.2 215.2 493.1 213.2 492.5 211.3 490.3 209.3 488.2 208.5 479.2 208.9 470.2 208.0 465.2 209.0 460.3 211.4 456.3 214.3 452.3 218.2 450.0 222.2 449.6 225.2 450.4 227.2 453.3 229.3 457.3 230.2 462.0 230.2Z"/><path fill="#3caeda" fill-rule="evenodd" d="M527.1 251.1 396.4 251.1 396.4 147.5 527.1 147.5 527.1 159.2 525.1 159.2 523.1 157.4 521.1 156.4 517.1 156.2 514.1 157.2 512.5 158.5 510.1 162.4 509.8 166.4 511.1 170.4 513.1 173.1 517.2 176.4 518.6 178.4 518.5 180.4 517.6 182.4 514.5 186.4 509.7 191.3 498.0 201.3 495.2 206.7 494.2 207.2 487.2 205.8 479.2 206.7 469.2 204.6 464.2 205.7 457.3 209.5 450.5 215.2 445.7 221.2 444.0 226.2 444.2 228.2 445.3 230.2 448.0 232.2 451.3 233.2 459.3 233.7 469.2 232.0 477.2 229.0 485.2 224.4 494.3 218.2 498.2 213.1 504.2 213.1 507.1 212.5 515.1 208.7 525.1 202.7 527.1 202.7 527.1 251.1Z"/><path fill="#62bee1" fill-rule="evenodd" d="M527.1 251.1 396.4 251.1 396.4 147.5 511.4 147.5 511.4 149.5 508.1 152.4 506.0 155.5 504.2 161.5 504.3 165.4 505.2 169.4 510.1 182.4 509.6 185.4 506.9 189.3 502.8 193.3 496.2 198.5 492.2 203.5 479.2 204.5 476.2 203.5 471.2 200.4 468.2 199.8 464.2 200.6 460.3 202.6 452.3 208.8 442.4 219.2 438.7 225.2 437.9 228.2 437.9 230.2 439.3 233.2 441.3 234.9 444.3 236.3 448.3 237.3 458.3 237.6 469.2 235.7 477.2 232.8 483.2 229.4 496.0 220.2 500.2 215.5 508.1 214.1 525.1 206.0 527.1 206.0 527.1 251.1ZM463.9 161.5 462.2 157.2 460.3 155.3 459.4 155.5 459.6 157.5 461.3 160.6 463.2 162.2 463.9 161.5Z"/><path fill="#89cce6" fill-rule="evenodd" d="M527.1 251.1 396.4 251.1 396.4 147.5 492.4 147.5 492.6 152.5 494.8 160.5 500.7 171.4 502.7 177.4 503.0 181.4 502.7 184.4 499.8 190.3 490.9 201.3 489.2 201.9 482.2 202.7 479.2 202.2 476.6 200.3 475.0 197.3 473.4 190.3 472.2 189.0 470.2 188.5 463.2 188.5 459.3 190.0 454.0 195.3 450.0 203.3 446.8 208.3 432.4 225.2 430.2 230.2 430.0 233.2 430.5 235.2 432.3 237.9 435.3 240.2 439.3 241.8 444.3 242.9 457.3 243.4 470.2 241.5 477.2 239.2 482.2 236.2 497.2 222.6 501.6 217.2 508.1 216.1 520.1 211.9 525.1 210.6 527.1 210.6 527.1 251.1ZM468.8 166.4 469.3 164.4 468.9 162.4 465.7 157.5 460.3 151.6 458.3 150.6 457.3 150.7 456.4 152.5 456.8 155.5 457.9 158.5 460.3 162.3 463.2 165.6 465.2 166.9 467.2 167.3 468.8 166.4ZM409.6 161.5 409.9 160.5 409.4 159.1 409.0 160.5 409.6 161.5ZM446.0 168.4 446.6 167.4 446.4 166.4 445.3 165.5 444.3 165.5 443.3 166.3 443.2 167.4 443.9 168.4 445.3 168.8 446.0 168.4ZM466.4 183.4 467.8 181.4 467.2 179.7 465.2 179.2 462.9 180.4 462.3 182.4 463.2 183.9 465.2 184.0 466.4 183.4Z"/><path fill="#acd9eb" fill-rule="evenodd" d="M422.3 251.1 396.4 251.1 396.4 147.5 452.6 147.5 452.9 152.5 454.5 157.5 458.4 163.4 463.2 169.0 466.2 170.5 472.2 171.6 475.2 172.8 477.6 175.4 479.4 180.4 481.2 181.9 483.6 181.4 491.2 175.4 494.2 174.5 496.2 175.1 498.2 177.4 498.8 179.4 498.5 185.4 496.3 190.3 490.2 199.3 487.2 200.7 481.2 200.5 479.3 199.3 478.3 197.3 477.5 188.3 476.2 185.3 471.2 182.7 468.7 178.4 464.1 176.4 460.3 171.7 457.3 170.3 452.3 169.0 449.3 165.4 446.7 163.4 444.3 163.0 442.3 163.8 440.9 166.4 441.3 169.0 442.3 170.4 444.3 171.7 449.3 172.7 450.0 174.4 449.4 178.4 447.9 183.4 443.7 191.3 443.1 202.3 441.2 207.3 436.3 213.5 421.8 226.2 418.0 232.2 417.1 236.2 417.4 239.1 419.3 243.9 423.1 249.1 423.1 251.1 422.3 251.1ZM409.7 166.4 411.4 164.0 411.9 160.5 411.3 157.5 410.4 155.8 409.4 155.2 408.4 155.9 407.4 157.8 406.9 161.5 408.0 165.4 409.7 166.4ZM527.1 251.1 493.6 251.1 492.0 240.1 492.4 235.2 494.2 231.2 499.2 224.8 502.5 219.2 504.2 218.5 510.1 218.2 517.1 217.0 527.1 217.3 527.1 251.1Z"/><path fill="#c6e3f0" fill-rule="evenodd" d="M398.4 233.8 396.4 233.8 396.4 147.5 407.2 147.5 407.2 153.5 405.7 159.5 405.6 163.4 406.9 168.4 408.4 170.3 409.4 170.6 410.4 170.2 411.6 168.4 413.2 162.4 413.0 158.5 411.5 153.5 411.5 147.5 444.8 147.5 444.8 149.5 452.0 161.5 451.3 162.4 446.3 160.9 442.3 160.9 440.3 162.4 439.2 164.4 439.0 168.4 442.5 175.4 442.6 177.4 441.4 181.4 437.3 190.3 437.2 200.3 435.8 205.3 432.3 209.4 426.3 212.8 421.3 213.7 412.4 213.0 408.4 214.3 405.3 218.2 402.1 227.2 398.4 233.8ZM475.2 179.5 474.2 180.3 472.2 179.6 468.1 175.4 467.9 174.4 470.2 174.0 473.2 175.2 475.0 177.4 475.2 179.5ZM485.2 199.3 482.2 198.6 480.4 196.3 479.8 191.3 480.3 187.3 481.2 186.2 484.8 184.4 490.2 180.4 492.2 179.7 494.2 180.1 495.3 181.4 495.8 183.4 495.4 186.4 494.4 189.3 489.2 198.0 487.2 199.1 485.2 199.3ZM527.1 251.1 505.6 251.1 505.6 249.1 502.2 239.1 501.4 235.2 502.8 224.2 504.2 221.2 506.1 220.6 509.1 221.1 517.7 224.2 525.1 227.6 527.1 227.6 527.1 251.1Z"/><path fill="#daecf4" fill-rule="evenodd" d="M426.3 203.5 421.3 202.7 413.7 199.3 405.5 194.3 398.4 188.0 396.4 188.0 396.4 147.5 404.6 147.5 405.6 154.5 404.1 161.5 404.0 170.4 405.7 175.4 408.4 177.3 410.4 176.7 411.4 175.6 412.9 172.4 414.0 168.4 414.9 161.5 413.2 153.5 414.0 147.5 436.3 147.5 436.3 149.5 441.3 151.6 443.4 154.5 443.4 156.5 439.3 157.1 437.5 158.5 436.3 160.5 435.9 165.4 436.7 173.4 436.3 177.4 430.8 188.3 430.3 191.3 431.0 197.3 430.7 200.3 429.3 202.3 426.3 203.5ZM487.2 197.3 484.2 197.4 482.7 196.3 481.6 193.3 481.7 190.3 483.2 188.0 489.2 184.5 491.2 184.1 492.4 185.4 492.3 188.3 489.2 195.3 487.2 197.3ZM523.1 247.2 521.1 248.0 519.1 247.6 513.2 241.1 507.0 229.2 506.3 226.2 507.1 224.3 509.1 224.8 512.3 227.2 520.9 237.1 524.6 243.1 524.6 245.1 523.1 247.2Z"/><path fill="#edf3f6" fill-rule="evenodd" d="M400.4 166.6 399.4 167.2 396.4 167.3 396.4 147.5 402.2 147.5 402.2 149.5 404.1 153.5 404.1 155.5 402.4 162.8 400.4 166.6ZM424.3 159.6 421.3 159.8 417.4 158.1 415.2 154.5 415.4 153.1 416.4 151.7 419.3 150.7 424.3 150.8 430.3 151.9 433.7 153.5 433.8 154.5 432.8 155.5 424.3 159.6ZM486.2 195.4 484.2 194.7 483.5 192.3 484.4 190.3 487.2 189.3 488.4 190.3 488.3 192.3 487.5 194.3 486.2 195.4Z"/><path fill="#f8f1ed" fill-rule="evenodd" d="M398.4 164.6 396.4 164.6 396.4 147.5 400.3 147.5 400.3 149.5 402.0 151.5 403.0 154.5 401.4 161.7 400.4 163.5 398.4 164.6Z"/><path fill="#fbe6da" fill-rule="evenodd" d="M398.4 162.6 396.4 162.6 396.4 149.6 398.4 149.6 400.2 150.5 401.6 152.5 402.2 154.5 401.9 157.5 400.8 160.5 399.4 162.3 398.4 162.6Z"/><path fill="#fddbc7" fill-rule="evenodd" d="M399.4 160.9 396.4 161.2 396.4 150.3 399.4 150.7 401.3 153.5 401.3 157.5 399.4 160.9Z"/><path fill="#f9c5ab" fill-rule="evenodd" d="M399.4 159.8 396.4 160.3 396.4 150.8 399.4 151.3 400.9 153.5 401.1 156.5 399.4 159.8Z"/><path fill="#f6b090" fill-rule="evenodd" d="M398.4 159.6 396.4 159.6 396.4 151.3 399.4 151.8 400.8 154.5 400.4 157.5 399.4 159.0 398.4 159.6Z"/><path fill="#ee9777" fill-rule="evenodd" d="M398.4 159.0 396.4 159.0 396.4 151.7 398.4 151.7 400.1 153.5 400.3 156.5 399.4 158.4 398.4 159.0Z"/><path fill="#e27c62" fill-rule="evenodd" d="M398.4 158.5 396.4 158.5 396.4 152.1 398.4 152.1 399.8 153.5 400.0 156.5 398.4 158.5Z"/><path fill="#d6604d" fill-rule="evenodd" d="M398.4 158.0 396.4 158.0 396.4 152.4 398.4 152.4 399.5 153.5 399.7 156.5 398.4 158.0Z"/><path fill="#c8433f" fill-rule="evenodd" d="M398.4 157.6 396.4 157.6 396.4 152.8 398.4 152.8 399.4 154.0 399.4 156.5 398.4 157.6Z"/><path fill="#b92632" fill-rule="evenodd" d="M398.4 157.1 396.4 157.1 396.4 153.2 398.4 153.2 399.3 154.5 399.3 155.5 398.4 157.1Z"/><path fill="#a31329" fill-rule="evenodd" d="M398.4 156.7 396.4 156.7 396.4 153.7 398.4 153.7 399.0 155.5 398.4 156.7Z"/><path fill="#850a24" fill-rule="evenodd" d="M398.4 156.0 396.4 156.0 396.4 154.3 398.4 154.3 398.4 156.0Z"/></g><polyline points="399.6,154.6 440.9,153.6 474.6,179.6 478.6,184.6 521.0,244.2" fill="none" stroke="#8a8a8a" stroke-width="1.1" stroke-linejoin="round"/><rect x="397.9" y="149.0" width="127.70" height="100.60" fill="none" stroke="#b4b4b4" stroke-width="0.6"/><line x1="400.00" y1="249.6" x2="400.00" y2="248.29999999999998" stroke="#777" stroke-width="0.5"/><text x="400.00" y="259.12" font-size="6.3" font-family="Liberation Sans, sans-serif" fill="#3a3a3a" text-anchor="middle">0</text><line x1="439.50" y1="249.6" x2="439.50" y2="248.29999999999998" stroke="#777" stroke-width="0.5"/><text x="439.50" y="259.12" font-size="6.3" font-family="Liberation Sans, sans-serif" fill="#3a3a3a" text-anchor="middle">5</text><line x1="479.00" y1="249.6" x2="479.00" y2="248.29999999999998" stroke="#777" stroke-width="0.5"/><text x="479.00" y="259.12" font-size="6.3" font-family="Liberation Sans, sans-serif" fill="#3a3a3a" text-anchor="middle">10</text><line x1="518.50" y1="249.6" x2="518.50" y2="248.29999999999998" stroke="#777" stroke-width="0.5"/><text x="518.50" y="259.12" font-size="6.3" font-family="Liberation Sans, sans-serif" fill="#3a3a3a" text-anchor="middle">15</text><line x1="397.9" y1="155.00" x2="399.2" y2="155.00" stroke="#777" stroke-width="0.5"/><text x="395.50" y="157.72" font-size="6.3" font-family="Liberation Sans, sans-serif" fill="#3a3a3a" text-anchor="end">0</text><line x1="397.9" y1="169.96" x2="399.2" y2="169.96" stroke="#777" stroke-width="0.5"/><text x="395.50" y="172.68" font-size="6.3" font-family="Liberation Sans, sans-serif" fill="#3a3a3a" text-anchor="end">-2</text><line x1="397.9" y1="184.92" x2="399.2" y2="184.92" stroke="#777" stroke-width="0.5"/><text x="395.50" y="187.64" font-size="6.3" font-family="Liberation Sans, sans-serif" fill="#3a3a3a" text-anchor="end">-4</text><line x1="397.9" y1="199.88" x2="399.2" y2="199.88" stroke="#777" stroke-width="0.5"/><text x="395.50" y="202.60" font-size="6.3" font-family="Liberation Sans, sans-serif" fill="#3a3a3a" text-anchor="end">-6</text><line x1="397.9" y1="214.84" x2="399.2" y2="214.84" stroke="#777" stroke-width="0.5"/><text x="395.50" y="217.56" font-size="6.3" font-family="Liberation Sans, sans-serif" fill="#3a3a3a" text-anchor="end">-8</text><line x1="397.9" y1="229.80" x2="399.2" y2="229.80" stroke="#777" stroke-width="0.5"/><text x="395.50" y="232.52" font-size="6.3" font-family="Liberation Sans, sans-serif" fill="#3a3a3a" text-anchor="end">-10</text><line x1="397.9" y1="244.76" x2="399.2" y2="244.76" stroke="#777" stroke-width="0.5"/><text x="395.50" y="247.48" font-size="6.3" font-family="Liberation Sans, sans-serif" fill="#3a3a3a" text-anchor="end">-12</text><path d="M399.05 143.95L401.75 146.65M399.05 146.65L401.75 143.95" stroke="#3a3a3a" stroke-width="0.6" fill="none"/><text x="403.80" y="146.87" font-size="6.3" font-family="Liberation Sans, sans-serif" fill="#3a3a3a">10<tspan font-size="4.6" dy="-2.9">4</tspan></text><path d="M510.45 267.15L513.15 269.85M510.45 269.85L513.15 267.15" stroke="#3a3a3a" stroke-width="0.6" fill="none"/><text x="515.20" y="270.07" font-size="6.3" font-family="Liberation Sans, sans-serif" fill="#3a3a3a">10<tspan font-size="4.6" dy="-2.9">4</tspan></text><text x="461.75" y="269.15" font-size="8.2" font-family="Liberation Serif, serif" fill="#111" text-anchor="middle">x (feet)</text><text x="380.50" y="203.15" font-size="8.2" font-family="Liberation Serif, serif" fill="#111" text-anchor="middle" transform="rotate(-90 380.50 200.20)">y (feet)</text><rect x="469.9" y="152.8" width="52.50" height="8.40" fill="#fff" stroke="#b0b0b0" stroke-width="0.6"/><line x1="471.50" y1="157.00" x2="483.10" y2="157.00" stroke="#8a8a8a" stroke-width="1.2"/><text x="484.30" y="159.74" font-size="6.35" font-family="Liberation Sans, sans-serif" fill="#202020" text-anchor="start">Ground track</text><linearGradient id="g6" x1="0" y1="0" x2="0" y2="1"><stop offset="0.000" stop-color="#67001f"/><stop offset="0.050" stop-color="#8c0c25"/><stop offset="0.100" stop-color="#b2182b"/><stop offset="0.150" stop-color="#c43c3c"/><stop offset="0.200" stop-color="#d6604d"/><stop offset="0.250" stop-color="#e58268"/><stop offset="0.300" stop-color="#f4a582"/><stop offset="0.350" stop-color="#f9c0a4"/><stop offset="0.400" stop-color="#fddbc7"/><stop offset="0.450" stop-color="#fae9df"/><stop offset="0.500" stop-color="#f7f7f7"/><stop offset="0.550" stop-color="#dfeef5"/><stop offset="0.600" stop-color="#c6e3f0"/><stop offset="0.650" stop-color="#a5d6ea"/><stop offset="0.700" stop-color="#76c6e4"/><stop offset="0.750" stop-color="#44b3dc"/><stop offset="0.800" stop-color="#1c9cd0"/><stop offset="0.850" stop-color="#0e84c4"/><stop offset="0.900" stop-color="#0a6ab0"/><stop offset="0.950" stop-color="#084e91"/><stop offset="1.000" stop-color="#08306b"/></linearGradient><rect x="528.8" y="149.0" width="6.90" height="100.60" fill="url(#g6)"/><rect x="528.8" y="149.0" width="6.90" height="100.60" fill="none" stroke="#b8b8b8" stroke-width="0.5"/><text x="538.10" y="152.22" font-size="6.3" font-family="Liberation Sans, sans-serif" fill="#3a3a3a" text-anchor="start">5</text><text x="538.10" y="202.52" font-size="6.3" font-family="Liberation Sans, sans-serif" fill="#3a3a3a" text-anchor="start">0</text><text x="538.10" y="252.82" font-size="6.3" font-family="Liberation Sans, sans-serif" fill="#3a3a3a" text-anchor="start">-5</text><text x="533.00" y="145.63" font-size="6.6" font-family="Liberation Sans, sans-serif" fill="#3a3a3a" text-anchor="middle">ΔSEL(dB)</text>
</svg>
</body></html>
